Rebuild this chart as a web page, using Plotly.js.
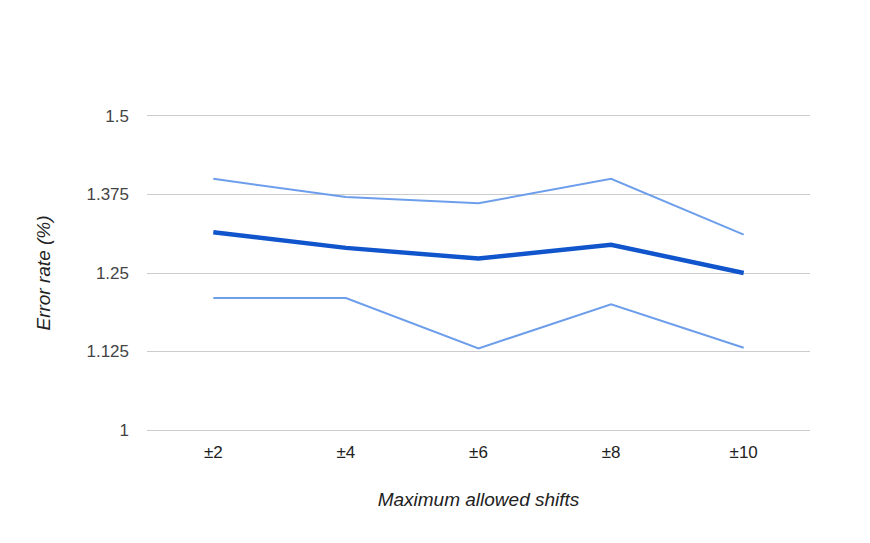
<!DOCTYPE html>
<html>
<head>
<meta charset="utf-8">
<script src="https://cdn.plot.ly/plotly-3.0.1.min.js"></script>
<style>html,body{margin:0;padding:0;background:#fff;}#chart{width:870px;height:543px;}</style>
</head>
<body>
<div id="chart"></div>
<script>
const categories = ["±2", "±4", "±6", "±8", "±10"];
const upperValues = [1.400, 1.371, 1.361, 1.400, 1.311];
const meanValues = [1.315, 1.290, 1.273, 1.295, 1.250];
const lowerValues = [1.210, 1.210, 1.130, 1.200, 1.131];
const yTicks = [1, 1.125, 1.25, 1.375, 1.5];
const yTickText = ["1", "1.125", "1.25", "1.375", "1.5"];

const traces = [
  {x: categories, y: upperValues, mode: "lines", line: {color: "#6d9eeb", width: 2}, hoverinfo: "none"},
  {x: categories, y: lowerValues, mode: "lines", line: {color: "#6d9eeb", width: 2}, hoverinfo: "none"},
  {x: categories, y: meanValues, mode: "lines", line: {color: "#1155cc", width: 4.5}, hoverinfo: "none"}
];

const layout = {
  width: 870, height: 543,
  margin: {l: 147, r: 60, t: 116, b: 113},
  paper_bgcolor: "#fff", plot_bgcolor: "#fff",
  showlegend: false,
  font: {family: "Liberation Sans, Arial, sans-serif", size: 17, color: "#444"},
  xaxis: {
    type: "category",
    range: [-0.5, 4.5],
    showgrid: false, zeroline: false,
    showline: true, mirror: true, linecolor: "#cccccc", linewidth: 1,
    ticks: "", ticklabelstandoff: 7,
    tickfont: {size: 17, color: "#222"},
    title: {text: "<i>Maximum allowed shifts</i>", font: {size: 19, color: "#222"}, standoff: 31}
  },
  yaxis: {
    range: [1, 1.5],
    tickvals: yTicks, ticktext: yTickText,
    showgrid: true, gridcolor: "#cccccc", gridwidth: 1,
    zeroline: false, showline: false,
    ticks: "", ticklabelstandoff: 17,
    tickfont: {size: 17, color: "#444"},
    title: {text: "<i>Error rate (%)</i>", font: {size: 19, color: "#222"}, standoff: 30}
  }
};

Plotly.newPlot("chart", traces, layout, {displayModeBar: false, staticPlot: true});
</script>
</body>
</html>
